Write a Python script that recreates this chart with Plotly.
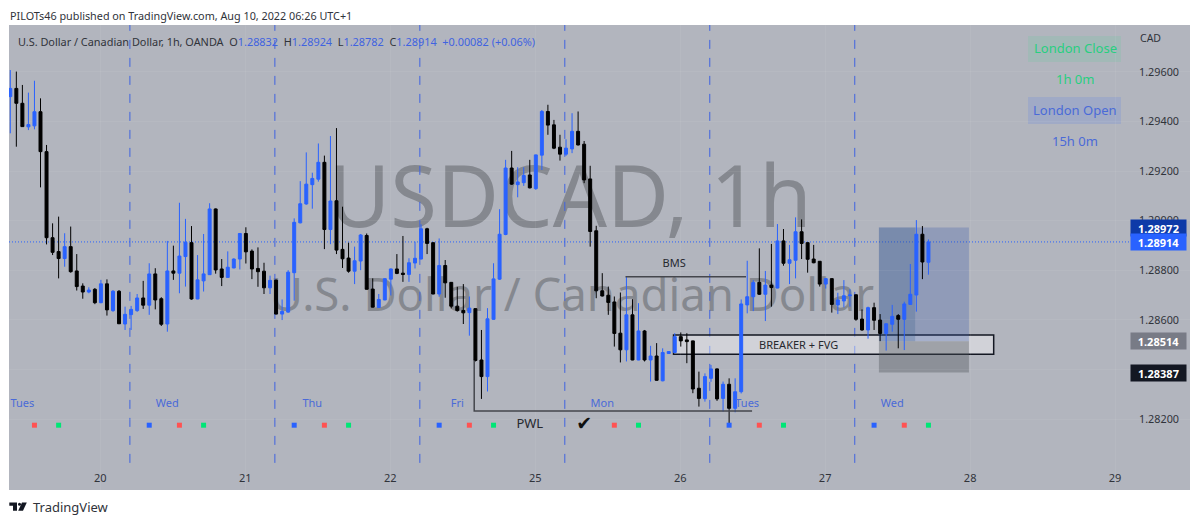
import plotly.graph_objects as go

#candles, one per hour
opens = [1.29500,1.29533,1.29473,1.29378,1.29382,1.29439,1.29278,1.28931,1.28875,1.28847,
1.28895,1.28797,1.28736,1.28712,1.28723,1.28669,1.28745,1.28637,1.28715,1.28583,
1.28621,1.28637,1.28688,1.28659,1.28785,1.28685,1.28583,1.28797,1.28788,1.28855,
1.28911,1.28684,1.28757,1.28782,1.29047,1.28805,1.28771,1.28809,1.28845,1.28948,
1.28877,1.28807,1.28796,1.28729,1.28760,1.28623,1.28631,1.28790,1.28991,1.29067,
1.29145,1.29167,1.29235,1.28964,1.29080,1.28884,1.28849,1.28796,1.28837,1.28940,
1.28724,1.28650,1.28680,1.28764,1.28805,1.28788,1.28783,1.28829,1.28845,1.28967,
1.28911,1.28704,1.28819,1.28751,1.28655,1.28638,1.28629,1.28645,1.28438,1.28371,
1.28602,1.28764,1.28944,1.29212,1.29145,1.29153,1.29184,1.29129,1.29264,1.29440,
1.29386,1.29296,1.29268,1.29289,1.29360,1.29308,1.29168,1.28959,1.28717,1.28699,
1.28672,1.28546,1.28479,1.28620,1.28438,1.28555,1.28438,1.28454,1.28354,1.28464,
1.28468,1.28532,1.28519,1.28515,1.28324,1.28282,1.28364,1.28402,1.28283,1.28340,
1.28243,1.28310,1.28660,1.28693,1.28751,1.28703,1.28740,1.28728,1.28918,1.28828,
1.28840,1.28955,1.28911,1.28845,1.28836,1.28744,1.28766,1.28660,1.28676,1.28697,
1.28701,1.28603,1.28559,1.28649,1.28599,1.28545,1.28582,1.28617,1.28602,1.28662,
1.28700,1.28945,1.28832]
highs = [1.29607,1.29601,1.29547,1.29516,1.29564,1.29493,1.29305,1.28989,1.29016,1.28949,
1.28976,1.28865,1.28747,1.28731,1.28728,1.28761,1.28763,1.28720,1.28720,1.28653,
1.28656,1.28704,1.28757,1.28828,1.28808,1.28691,1.28918,1.28899,1.29072,1.29007,
1.28978,1.28861,1.28946,1.29070,1.29049,1.28845,1.28876,1.28848,1.28950,1.28973,
1.28884,1.28892,1.28830,1.28778,1.28762,1.28682,1.28800,1.29009,1.29159,1.29275,
1.29193,1.29311,1.29262,1.29341,1.29373,1.29056,1.28911,1.28895,1.28946,1.28948,
1.28767,1.28704,1.28767,1.28807,1.28865,1.28938,1.28848,1.28915,1.28985,1.28971,
1.28912,1.28928,1.28841,1.28752,1.28733,1.28744,1.28694,1.28646,1.28559,1.28647,
1.28828,1.29046,1.29245,1.29281,1.29215,1.29215,1.29245,1.29266,1.29446,1.29467,
1.29406,1.29346,1.29328,1.29433,1.29440,1.29321,1.29221,1.28979,1.28788,1.28734,
1.28694,1.28710,1.28774,1.28683,1.28667,1.28559,1.28495,1.28506,1.28485,1.28473,
1.28546,1.28549,1.28546,1.28516,1.28391,1.28384,1.28418,1.28404,1.28351,1.28364,
1.28364,1.28682,1.28838,1.28760,1.28888,1.28797,1.28906,1.28986,1.28966,1.28902,
1.29013,1.29005,1.28912,1.28902,1.28837,1.28767,1.28767,1.28709,1.28760,1.28723,
1.28702,1.28642,1.28653,1.28669,1.28623,1.28586,1.28660,1.28623,1.28673,1.28825,
1.29002,1.28978,1.28924]
lows = [1.29352,1.29298,1.29378,1.29365,1.29368,1.29134,1.28904,1.28861,1.28767,1.28814,
1.28790,1.28718,1.28685,1.28707,1.28663,1.28667,1.28617,1.28632,1.28583,1.28559,
1.28559,1.28632,1.28644,1.28620,1.28642,1.28575,1.28552,1.28761,1.28707,1.28734,
1.28681,1.28683,1.28714,1.28781,1.28786,1.28736,1.28770,1.28808,1.28803,1.28827,
1.28764,1.28733,1.28704,1.28704,1.28622,1.28599,1.28628,1.28677,1.28989,1.29064,
1.29048,1.29157,1.28885,1.28905,1.28865,1.28809,1.28790,1.28744,1.28800,1.28722,
1.28650,1.28649,1.28679,1.28698,1.28784,1.28753,1.28753,1.28807,1.28844,1.28865,
1.28703,1.28693,1.28689,1.28646,1.28633,1.28583,1.28536,1.28432,1.28281,1.28311,
1.28600,1.28761,1.28941,1.29144,1.29094,1.29140,1.29130,1.29124,1.29204,1.29346,
1.29288,1.29242,1.29261,1.29272,1.29303,1.29151,1.28895,1.28687,1.28694,1.28620,
1.28492,1.28428,1.28432,1.28437,1.28437,1.28432,1.28351,1.28355,1.28352,1.28463,
1.28465,1.28492,1.28425,1.28304,1.28250,1.28270,1.28350,1.28273,1.28230,1.28169,
1.28227,1.28303,1.28626,1.28635,1.28700,1.28595,1.28653,1.28727,1.28818,1.28744,
1.28767,1.28845,1.28790,1.28828,1.28734,1.28726,1.28629,1.28623,1.28650,1.28653,
1.28596,1.28556,1.28524,1.28559,1.28514,1.28476,1.28552,1.28485,1.28478,1.28660,
1.28633,1.28764,1.28782]
closes = [1.29533,1.29473,1.29379,1.29387,1.29439,1.29278,1.28931,1.28872,1.28847,1.28895,
1.28794,1.28734,1.28712,1.28720,1.28669,1.28745,1.28640,1.28715,1.28584,1.28622,
1.28642,1.28688,1.28659,1.28785,1.28680,1.28582,1.28797,1.28788,1.28857,1.28913,
1.28684,1.28761,1.28785,1.29047,1.28801,1.28771,1.28812,1.28845,1.28948,1.28874,
1.28805,1.28794,1.28729,1.28759,1.28623,1.28634,1.28792,1.28993,1.29068,1.29147,
1.29170,1.29235,1.28964,1.29079,1.28881,1.28846,1.28796,1.28838,1.28942,1.28723,
1.28651,1.28682,1.28766,1.28805,1.28787,1.28783,1.28830,1.28848,1.28967,1.28908,
1.28704,1.28819,1.28749,1.28655,1.28637,1.28628,1.28647,1.28436,1.28371,1.28604,
1.28765,1.28945,1.29212,1.29147,1.29156,1.29182,1.29132,1.29265,1.29440,1.29385,
1.29292,1.29268,1.29292,1.29360,1.29305,1.29164,1.28956,1.28717,1.28696,1.28670,
1.28545,1.28479,1.28620,1.28438,1.28555,1.28438,1.28454,1.28356,1.28468,1.28472,
1.28532,1.28515,1.28512,1.28321,1.28283,1.28371,1.28402,1.28281,1.28340,1.28243,
1.28310,1.28664,1.28693,1.28750,1.28703,1.28740,1.28730,1.28918,1.28828,1.28842,
1.28955,1.28908,1.28844,1.28830,1.28744,1.28766,1.28662,1.28680,1.28697,1.28700,
1.28602,1.28559,1.28649,1.28598,1.28545,1.28584,1.28614,1.28602,1.28664,1.28703,
1.28945,1.28833,1.28914]
hours = list(range(len(opens)))

#axis
x_tick_pos = [14.9, 38.9, 62.9, 86.9, 110.9, 134.9, 158.9, 182.9]
x_tick_text = ["20", "21", "22", "25", "26", "27", "28", "29"]
#1.28400 sits behind the stop tag in the picture, so it has no label
y_ticks = [1.282, 1.284, 1.286, 1.288, 1.290, 1.292, 1.294, 1.296]
y_tick_text = ["1.28200", "", "1.28600", "1.28800", "1.29000", "1.29200", "1.29400", "1.29600"]
x_range = [-0.215, 195.3]
y_range = [1.279137, 1.297887]

#session indicator
session_lines = [19.8, 43.8, 67.8, 91.8, 115.8, 139.8]
session_line_floor = 1.28023
day_names = ["Tues", "Wed", "Thu", "Fri", "Mon", "Tues", "Wed"]
day_x = [2, 26, 50, 74, 98, 122, 146]
day_y = [1.28258] * 7
open_marks_x = [23, 47, 71, 119, 143]
lunch_marks_x = [4, 28, 52, 76, 100, 124, 148]
close_marks_x = [8, 32, 56, 80, 104, 128, 152]
marks_y = 1.28175
check_x = [95]

#drawings
last_price = 1.28914
target_price = 1.28972
entry_price = 1.28514
stop_price = 1.28387
position_x = [143.8, 149.8, 158.7]
breaker_x = [109.8, 162.8]
breaker_y = [1.28461, 1.28539]
bms_x = [101.85, 121.8]
bms_y = [1.28774, 1.28774]
pwl_x = [76.8, 76.8, 122.8]
pwl_y = [1.28436, 1.28232, 1.28232]

BG = "#b2b5be"
BLUE = "#2962ff"
DARK = "#45474d"
FONT = "Noto Sans"
W, H = 1200, 523
LEFT, RIGHT, TOP, BOTTOM = 9, 1190, 25, 490


def px(x):
    return (x - LEFT) / (RIGHT - LEFT)


def py(y):
    return (BOTTOM - y) / (BOTTOM - TOP)


def mark_trace(xs, color):
    return go.Scatter(x=xs, y=[marks_y] * len(xs), mode="markers",
                      marker=dict(symbol="square", size=5, color=color))


fig = go.Figure()
fig.add_trace(go.Candlestick(x=hours, open=opens, high=highs, low=lows, close=closes,
                             increasing=dict(line=dict(color=BLUE, width=1), fillcolor=BLUE),
                             decreasing=dict(line=dict(color="#000000", width=1), fillcolor="#000000"),
                             whiskerwidth=0))
fig.add_trace(go.Scatter(x=pwl_x, y=pwl_y, mode="lines", line=dict(color=DARK, width=1.5)))
fig.add_trace(go.Scatter(x=bms_x, y=bms_y, mode="lines", line=dict(color=DARK, width=1.5)))
fig.add_trace(mark_trace(open_marks_x, BLUE))
fig.add_trace(mark_trace(lunch_marks_x, "#ff5252"))
fig.add_trace(mark_trace(close_marks_x, "#00e676"))
fig.add_trace(go.Scatter(x=day_x, y=day_y, mode="text", text=day_names,
                         textfont=dict(family=FONT, size=11, color="#4a6ad8")))
fig.add_trace(go.Scatter(x=check_x, y=[marks_y], mode="text", text=["✔"],
                         textfont=dict(family="DejaVu Sans", size=19, color="#101010")))
fig.add_trace(go.Scatter(x=[109.9], y=[1.28822], mode="text", text=["BMS"],
                         textfont=dict(family=FONT, size=11, color="#26282e")))
fig.add_trace(go.Scatter(x=[86], y=[1.28178], mode="text", text=["PWL"],
                         textfont=dict(family=FONT, size=13, color="#26282e")))
fig.add_trace(go.Scatter(x=[130.5], y=[1.28495], mode="text", text=["BREAKER + FVG"],
                         textfont=dict(family=FONT, size=11, color="#26282e")))

shapes = []
#watermark sits under the candles
shapes.append(dict(type="rect", xref="paper", yref="paper", x0=px(300), x1=px(840), y0=py(240), y1=py(160),
                   layer="below", line=dict(width=0), fillcolor="rgba(0,0,0,0)",
                   label=dict(text="USDCAD, 1h", textposition="middle center",
                              font=dict(family=FONT, size=85, color="#85888f"))))
shapes.append(dict(type="rect", xref="paper", yref="paper", x0=px(270), x1=px(874), y0=py(316), y1=py(276),
                   layer="below", line=dict(width=0), fillcolor="rgba(0,0,0,0)",
                   label=dict(text="U.S. Dollar / Canadian Dollar", textposition="middle center",
                              font=dict(family=FONT, size=45.5, color="#85888f"))))
for sx in session_lines:
    shapes.append(dict(type="line", x0=sx, x1=sx, y0=session_line_floor, y1=y_range[1], layer="below",
                       line=dict(color="#3f63e0", width=1, dash="dash")))
shapes.append(dict(type="line", x0=x_range[0], x1=185.5, y0=last_price, y1=last_price, layer="below",
                   line=dict(color=BLUE, width=1, dash="1px,2px")))
shapes.append(dict(type="rect", x0=breaker_x[0], x1=breaker_x[1], y0=breaker_y[0], y1=breaker_y[1], layer="below",
                   line=dict(color="#131722", width=1.5), fillcolor="rgba(255,255,255,0.4)"))
#long position tool
shapes.append(dict(type="rect", x0=position_x[0], x1=position_x[2], y0=entry_price, y1=target_price, layer="below",
                   line=dict(width=0), fillcolor="rgba(50,85,170,0.27)"))
shapes.append(dict(type="rect", x0=position_x[0], x1=position_x[1], y0=entry_price, y1=target_price, layer="below",
                   line=dict(width=0), fillcolor="rgba(40,80,130,0.22)"))
shapes.append(dict(type="rect", x0=position_x[0], x1=position_x[2], y0=stop_price, y1=entry_price, layer="below",
                   line=dict(width=0), fillcolor="rgba(80,83,90,0.38)"))
#session boxes top right
shapes.append(dict(type="rect", xref="paper", yref="paper", x0=px(1028), x1=px(1121), y0=py(62), y1=py(36),
                   layer="below", line=dict(width=0), fillcolor="rgba(0,230,118,0.09)"))
shapes.append(dict(type="rect", xref="paper", yref="paper", x0=px(1028), x1=px(1121), y0=py(124), y1=py(97),
                   layer="below", line=dict(width=0), fillcolor="rgba(41,98,255,0.13)"))
#TradingView logo
shapes.append(dict(type="path", xref="paper", yref="paper", layer="above", line=dict(width=0), fillcolor="#131722",
                   path="M %f,%f L %f,%f L %f,%f L %f,%f L %f,%f L %f,%f Z" % (
                       px(9.3), py(502.5), px(17), py(502.5), px(17), py(510.7), px(13), py(510.7),
                       px(13), py(505.8), px(9.3), py(505.8))))
shapes.append(dict(type="circle", xref="paper", yref="paper", layer="above", line=dict(width=0), fillcolor="#131722",
                   x0=px(18), x1=px(21), y0=py(505.7), y1=py(502.7)))
shapes.append(dict(type="path", xref="paper", yref="paper", layer="above", line=dict(width=0), fillcolor="#131722",
                   path="M %f,%f L %f,%f L %f,%f L %f,%f Z" % (
                       px(22), py(502.5), px(26.8), py(502.5), px(23), py(510.7), px(18.2), py(510.7))))


def note(text, x, y, size, color, anchor="center", **kw):
    return dict(text=text, xref="paper", yref="paper", x=px(x), y=py(y), xanchor=anchor, yanchor="middle",
                showarrow=False, font=dict(family=FONT, size=size, color=color), **kw)


def price_tag(price, bg):
    return dict(text="<b>%.5f</b>" % price, xref="paper", yref="y", x=px(1158.5), y=price,
                xanchor="center", yanchor="middle", showarrow=False, width=55, height=16, bgcolor=bg,
                borderpad=0, font=dict(family=FONT, size=11, color="#ffffff"))


val = '<span style="color:#3f63e0">%s</span>'
legend_line = ("U.S. Dollar / Canadian Dollar, 1h, OANDA  O" + val % "1.28832" + "  H" + val % "1.28924"
               + "  L" + val % "1.28782" + "  C" + val % "1.28914" + "  " + val % "+0.00082 (+0.06%)")
annotations = [
    note("PILOTs46 published on TradingView.com, Aug 10, 2022 06:26 UTC+1", 8, 15, 10.8, "#30333a", "left"),
    note(legend_line, 16, 42, 10.9, "#30333a", "left"),
    note("London Close", 1075, 48, 13, "#27cf80"),
    note("1h 0m", 1075, 79, 13, "#27cf80"),
    note("London Open", 1075, 110, 13, "#4a6ad8"),
    note("15h 0m", 1075, 141, 13, "#4a6ad8"),
    note("CAD", 1150, 38, 10.5, "#30333a"),
    note("TradingView", 31, 507, 13, "#30333a", "left"),
    price_tag(target_price, "#0d3aa8"),
    price_tag(last_price, BLUE),
    price_tag(entry_price, "#787b86"),
    price_tag(stop_price, "#131722"),
]

fig.update_layout(
    width=W, height=H, autosize=False, showlegend=False,
    margin=dict(l=LEFT, r=W - RIGHT, t=TOP, b=H - BOTTOM, pad=0),
    paper_bgcolor="#ffffff", plot_bgcolor=BG,
    font=dict(family=FONT, size=11, color="#30333a"),
    shapes=shapes, annotations=annotations,
    xaxis=dict(range=x_range, rangeslider=dict(visible=False), tickmode="array", tickvals=x_tick_pos,
               ticktext=x_tick_text, ticklabelposition="inside", ticklabelstandoff=3, ticks="", showline=False,
               zeroline=False, showgrid=True, gridcolor="rgba(255,255,255,0.06)",
               tickfont=dict(family=FONT, size=11, color="#30333a")),
    yaxis=dict(range=y_range, side="right", tickmode="array", tickvals=y_ticks, ticktext=y_tick_text,
               ticklabelposition="inside", ticklabelstandoff=8, ticks="", showline=False, zeroline=False,
               showgrid=True, gridcolor="rgba(255,255,255,0.06)",
               tickfont=dict(family=FONT, size=10.8, color="#30333a")),
)

fig.write_html("out.html", config=dict(displayModeBar=False), post_script="document.body.style.margin='0';")
